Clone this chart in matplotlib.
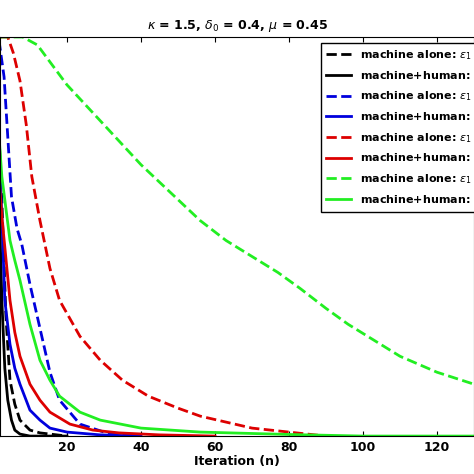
import numpy as np
import matplotlib.pyplot as plt

# values (error normalised to 0..1)
ma_black_x = [0.5, 2.4, 3.5, 4.6, 5.9, 7.3, 10, 12.7, 20]
ma_black_y = [1.0, 0.59, 0.30, 0.14, 0.08, 0.04, 0.015, 0.008, 0.0]
mh_black_x = [0.5, 2.4, 3.2, 4.0, 5.0, 5.9, 7.3, 10, 20]
mh_black_y = [1.0, 0.34, 0.17, 0.09, 0.04, 0.015, 0.005, 0.0, 0.0]
ma_blue_x = [1.5, 3.0, 4.0, 5.0, 6.5, 7.8, 10, 12.7, 15.4, 18, 23.5, 30, 40]
ma_blue_y = [1.0, 0.9, 0.75, 0.6, 0.52, 0.48, 0.38, 0.27, 0.16, 0.09, 0.03, 0.01, 0.0]
mh_blue_x = [0.5, 2.4, 3.2, 4.6, 5.9, 7.3, 10, 12.7, 15.4, 20, 29, 40]
mh_blue_y = [1.0, 0.55, 0.34, 0.23, 0.17, 0.13, 0.065, 0.04, 0.02, 0.01, 0.003, 0.0]
ma_red_x = [2.0, 4.0, 5.5, 7.3, 9, 10.5, 12.7, 15.4, 18, 23.5, 29, 35, 42, 50, 56, 70, 80, 90]
ma_red_y = [1.0, 1.0, 0.96, 0.89, 0.78, 0.65, 0.54, 0.42, 0.34, 0.25, 0.19, 0.14, 0.10, 0.07, 0.05, 0.02, 0.01, 0.0]
mh_red_x = [0.5, 2.4, 4.6, 5.9, 7.3, 10, 12.7, 15.4, 20.8, 27, 34, 45, 60]
mh_red_y = [0.8, 0.55, 0.34, 0.26, 0.20, 0.13, 0.09, 0.06, 0.03, 0.015, 0.008, 0.003, 0.0]
ma_green_x = [1.5, 3, 8, 12, 16, 20, 25, 29, 35, 40, 48, 56, 63, 70, 77, 83, 90, 96, 103, 110, 120, 130]
ma_green_y = [1.0, 1.0, 1.0, 0.98, 0.93, 0.88, 0.83, 0.79, 0.73, 0.68, 0.61, 0.54, 0.49, 0.45, 0.41, 0.37, 0.32, 0.28, 0.24, 0.20, 0.16, 0.13]
mh_green_x = [0.5, 2.4, 4.6, 5.9, 7.3, 10, 12.7, 15.4, 18, 23.5, 29, 40, 56, 80, 100, 130]
mh_green_y = [0.9, 0.65, 0.49, 0.44, 0.39, 0.28, 0.19, 0.14, 0.10, 0.06, 0.04, 0.02, 0.01, 0.004, 0.0, 0.0]

series = [
    (ma_black_x, ma_black_y, 'k', '--', 'machine alone: $\\epsilon_1$ = 0.05'),
    (mh_black_x, mh_black_y, 'k', '-', 'machine+human: $\\epsilon_1$ = 0.05'),
    (ma_blue_x, ma_blue_y, '#0000dd', '--', 'machine alone: $\\epsilon_1$ = 0.1'),
    (mh_blue_x, mh_blue_y, '#0000dd', '-', 'machine+human: $\\epsilon_1$ = 0.1'),
    (ma_red_x, ma_red_y, '#dd0000', '--', 'machine alone: $\\epsilon_1$ = 0.2'),
    (mh_red_x, mh_red_y, '#dd0000', '-', 'machine+human: $\\epsilon_1$ = 0.2'),
    (ma_green_x, ma_green_y, '#22ee22', '--', 'machine alone: $\\epsilon_1$ = 0.3'),
    (mh_green_x, mh_green_y, '#22ee22', '-', 'machine+human: $\\epsilon_1$ = 0.3'),
]

fig = plt.figure(figsize=(4.74, 4.74), dpi=100)
ax = fig.add_axes([0.0, 0.08, 1.0, 0.842])
for x, y, c, ls, lab in series:
    ax.plot(x, y, color=c, ls=ls, lw=2, label=lab)

ax.set_xlim(1.9, 130)
ax.set_ylim(0, 1.0)
ax.set_xticks([20, 40, 60, 80, 100, 120])
ax.set_yticks([])
ax.tick_params(axis='x', direction='in', top=True, labelsize=9)
for lbl in ax.get_xticklabels():
    lbl.set_fontweight('bold')
ax.set_xlabel('Iteration (n)', fontsize=9, fontweight='bold', labelpad=1)
ax.set_title('$\\kappa$ = 1.5, $\\delta_0$ = 0.4, $\\mu$ = 0.45', fontsize=9, fontweight='bold')
leg = ax.legend(loc='upper left', bbox_to_anchor=(0.665, 1.0),
                prop={'weight': 'bold', 'size': 8}, fancybox=False, edgecolor='k',
                handlelength=2.2, labelspacing=0.62, borderpad=0.5, framealpha=1)
fig.savefig('out.png', dpi=100)
